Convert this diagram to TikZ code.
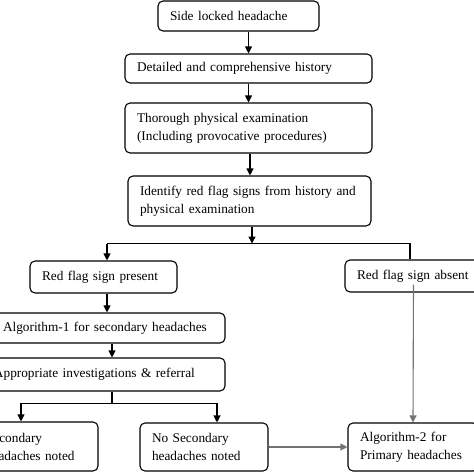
\documentclass[tikz,border=0pt]{standalone}
\usepackage{fontspec}
\setmainfont{Liberation Serif}
\usetikzlibrary{arrows.meta}
\tikzset{
  flowbox/.style={draw, line width=1.1pt, rounded corners=5pt, inner xsep=12pt, inner ysep=0pt,
    align=left, font=\fontsize{13.3}{18}\selectfont},
  arr/.style={line width=1.1pt, -{Triangle[length=7pt,width=7pt]}},
  grayarr/.style={line width=1.1pt, draw=black!55, -{Triangle[length=7pt,width=7pt]}},
  plain/.style={line width=1.1pt}
}

\begin{document}
\begin{tikzpicture}[x=1pt, y=-1pt]
			%%%%% START %%%%%
			\useasboundingbox (0, 0) rectangle (474, 474);
			\clip (0, 0) rectangle (474, 474);
			
			\node[flowbox, minimum width=161pt, minimum height=30pt, text width=137pt] (side) at (238.5, 16) {\mbox{Side locked headache}};
			\node[flowbox, minimum width=247pt, minimum height=29pt, text width=223pt] (history) at (248.5, 68.5) {\mbox{Detailed and comprehensive history}};
			\node[flowbox, minimum width=247pt, minimum height=50pt, text width=223pt] (exam) at (248.5, 128) {\mbox{Thorough physical examination}\\\mbox{(Including provocative procedures)}};
			\node[flowbox, minimum width=243pt, minimum height=50pt, text width=219pt] (flags) at (249.5, 201) {\mbox{Identify red flag signs from history and}\\physical examination};
			
			\node[flowbox, minimum width=147pt, minimum height=32pt, text width=123pt] (present) at (103.5, 277) {\mbox{Red flag sign present}};
			\node[flowbox, minimum width=137pt, minimum height=32pt, text width=113pt] (absent) at (413.5, 276) {\mbox{Red flag sign absent}};
			
			\node[flowbox, minimum width=234pt, minimum height=30pt, text width=210pt] (algone) at (108, 328) {\mbox{Algorithm-1 for secondary headaches}};
			\node[flowbox, minimum width=243pt, minimum height=33pt, text width=219pt] (invest) at (103.5, 374.5) {\mbox{Appropriate investigations \& referral}};
			
			\node[flowbox, minimum width=124pt, minimum height=49pt, text width=100pt] (sec) at (36, 446.5) {Secondary\\\mbox{headaches noted}};
			\node[flowbox, minimum width=128pt, minimum height=48pt, text width=104pt] (nosec) at (204, 447) {No Secondary\\\mbox{headaches noted}};
			\node[flowbox, minimum width=130pt, minimum height=48pt, text width=106pt] (algtwo) at (413, 447) {Algorithm-2 for\\\mbox{Primary headaches}};
			
			\draw[arr] (history.north |- side.south) -- (history.north);
			\draw[arr] (history.south) -- (exam.north);
			\draw[arr] ([xshift=1.5pt]exam.south) -- ([xshift=1.5pt]exam.south |- flags.north);
			
			\draw[arr] ([xshift=2.5pt]flags.south) -- ++(0, 17) coordinate (split1);
			\draw[plain] (split1) -- ([xshift=3.5pt]split1 -| present.north);
			\draw[arr] ([xshift=3.5pt]split1 -| present.north) -- ([xshift=3.5pt]present.north);
			\draw[plain] (split1) -- ([xshift=-3.5pt]split1 -| absent.north) -- ([xshift=-3.5pt]absent.north);
			
			\draw[arr] ([xshift=3.5pt]present.south) -- ([xshift=3.5pt]present.south |- algone.north);
			\draw[arr] ([xshift=4pt]algone.south) -- ([xshift=4pt]algone.south |- invest.north);
			
			\draw[plain] ([xshift=8.5pt]invest.south) -- ++(0, 12) coordinate (split2);
			\draw[arr] (split2) -| ([xshift=-15pt]sec.north);
			\draw[arr] (split2) -| ([xshift=13pt]nosec.north);
			
			\draw[grayarr] ([yshift=8pt]absent.south) -- (algtwo.north);
			\draw[grayarr] (nosec.east) -- (algtwo.west);
			%%%%% END %%%%%
		\end{tikzpicture}
\end{document}
